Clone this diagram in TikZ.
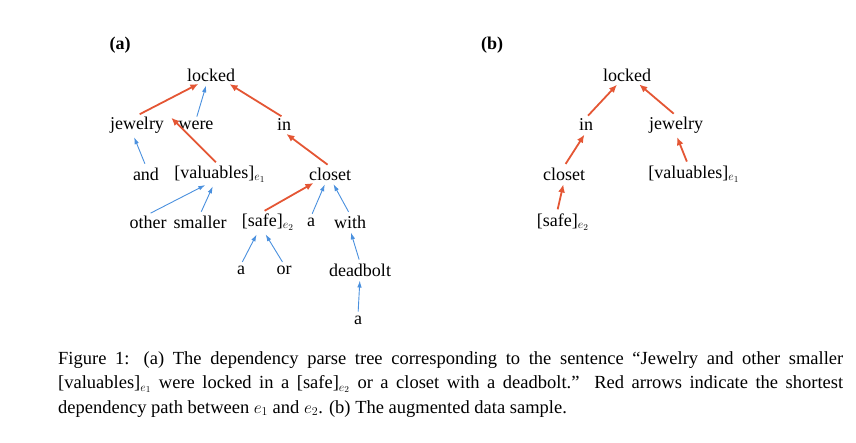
\documentclass[tikz,border=0pt]{standalone}
\usepackage{fontspec}
\setmainfont{Liberation Serif}
\usetikzlibrary{arrows.meta}
\definecolor{rd}{RGB}{228,86,52}
\definecolor{bl}{RGB}{74,144,222}
\begin{document}
\begin{tikzpicture}[x=1pt,y=-1pt,
  w/.style={font=\fontsize{18}{20}\selectfont,inner sep=1pt},
  ra/.style={draw=rd,line width=1.8pt,-{Latex[length=8pt,width=7pt]},shorten >=3pt,shorten <=3pt},
  ba/.style={draw=bl,line width=0.9pt,-{Latex[length=7pt,width=4.5pt]},shorten >=3pt,shorten <=3pt}]
\useasboundingbox (0,0) rectangle (856,442);
\node[w,font=\fontsize{18}{20}\selectfont\bfseries] (la) at (120,45) {(a)};
\node[w] (lk) at (211,75) {locked};
\node[w] (jw) at (137,125) {jewelry};
\node[w] (we) at (196,125) {were};
\node[w] (in) at (284,125) {in};
\node[w] (and) at (146,174) {and};
\node[w] (va) at (220,174) {[valuables]$_{e_1}$};
\node[w] (cl) at (330,174) {closet};
\node[w] (ot) at (148,222) {other};
\node[w] (sm) at (200,222) {smaller};
\node[w] (sa) at (268,222) {[safe]$_{e_2}$};
\node[w] (a1) at (311,222) {a};
\node[w] (wi) at (350,222) {with};
\node[w] (a2) at (241,270) {a};
\node[w] (or) at (284,270) {or};
\node[w] (db) at (360,270) {deadbolt};
\node[w] (a3) at (358,320) {a};
\draw[ra] (jw.north) -- ([xshift=-10pt]lk.south);
\draw[ba] (we.north) -- ([xshift=-4pt]lk.south);
\draw[ra] (in.north) -- ([xshift=16pt]lk.south);
\draw[ba] (and.north) -- ([xshift=-4pt]jw.south);
\draw[ra] ([xshift=-2pt]va.north) -- ([xshift=4pt]jw.north east);
\draw[ra] (cl.north) -- (in.south);
\draw[ba] (ot.north) -- ([xshift=-12pt]va.south);
\draw[ba] (sm.north) -- ([xshift=-6pt]va.south);
\draw[ra] ([xshift=-6pt]sa.north) -- ([xshift=-14pt]cl.south);
\draw[ba] (a1.north) -- ([xshift=-4pt]cl.south);
\draw[ba] (wi.north) -- ([xshift=2pt]cl.south);
\draw[ba] (a2.north) -- ([xshift=-10pt]sa.south);
\draw[ba] (or.north) -- ([xshift=-4pt]sa.south);
\draw[ba] (db.north) -- (wi.south);
\draw[ba] (a3.north) -- (db.south);
\node[w,font=\fontsize{18}{20}\selectfont\bfseries] (lb) at (492,45) {(b)};
\node[w] (blk) at (627,75) {locked};
\node[w] (bin) at (586,125) {in};
\node[w] (bjw) at (676,125) {jewelry};
\node[w] (bcl) at (564,174) {closet};
\node[w] (bva) at (694,174) {[valuables]$_{e_1}$};
\node[w] (bsa) at (563,222) {[safe]$_{e_2}$};
\draw[ra] (bin.north) -- ([xshift=-8pt]blk.south);
\draw[ra] (bjw.north) -- ([xshift=10pt]blk.south);
\draw[ra] (bcl.north) -- (bin.south);
\draw[ra] ([xshift=-6pt]bva.north) -- (bjw.south);
\draw[ra] ([xshift=-6pt]bsa.north) -- (bcl.south);
\node[anchor=north west,inner sep=0pt,text width=785pt,align=justify,font=\fontsize{18.5}{24.5}\selectfont] (cap) at (58,351)
{Figure 1: (a) The dependency parse tree corresponding to the sentence “Jewelry and other smaller\linebreak\relax
[valuables]$_{e_1}$ were locked in a [safe]$_{e_2}$ or a closet with a deadbolt.” Red arrows indicate the shortest\linebreak\relax
dependency path between $e_1$ and $e_2$. (b) The augmented data sample.};
\end{tikzpicture}
\end{document}
